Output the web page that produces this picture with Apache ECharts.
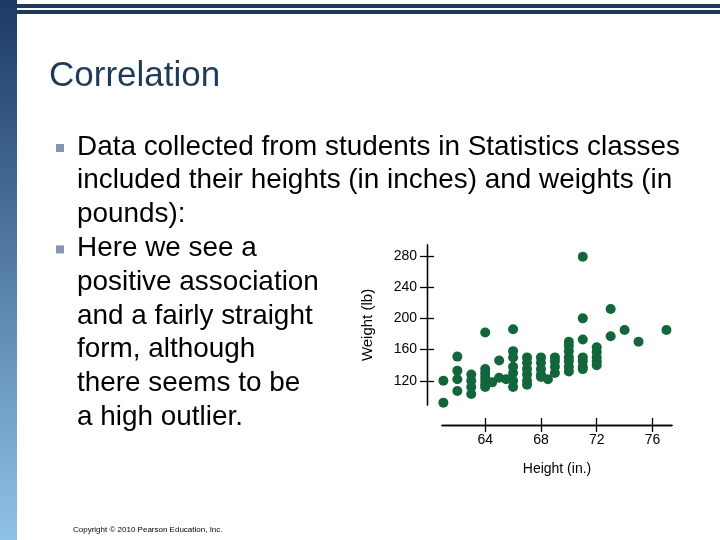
<!DOCTYPE html>
<html><head><meta charset="utf-8">
<script src="https://cdn.jsdelivr.net/npm/echarts@6/dist/echarts.min.js"></script>
<style>html,body{margin:0;padding:0;background:#fff}#chart{width:720px;height:540px}</style>
</head><body><div id="chart"></div>
<script>
(function () {
  // heights (in.) and weights (lb), one pair per student
  var heights = [61, 61, 61, 62, 62, 62, 62, 63, 63, 63, 63, 64, 64, 64, 64, 64, 64, 64, 64.5, 65, 65, 65.5,
    66, 66, 66, 66, 66, 66, 66, 67, 67, 67, 67, 67, 67, 68, 68, 68, 68, 68, 68.5, 69, 69, 69, 69,
    70, 70, 70, 70, 70, 70, 70, 71, 71, 71, 71, 71, 71, 71, 72, 72, 72, 72, 72, 73, 73, 74, 75, 77]
  var weights = [120, 92, 88, 151, 133, 122, 107, 128, 120, 112, 103, 182, 135, 130, 125, 120, 115, 112, 118, 146, 124, 122,
    186, 158, 150, 138, 130, 120, 112, 150, 143, 135, 128, 120, 115, 150, 143, 135, 128, 125, 122, 150, 145, 138, 130,
    170, 165, 158, 150, 145, 138, 132, 279, 200, 173, 150, 145, 138, 135, 163, 157, 150, 145, 140, 212, 177, 185, 170, 185]
  var xTicks = [64, 68, 72, 76]
  var yTicks = [120, 160, 200, 240, 280]
  var bullets = [
    ['Data collected from students in Statistics classes', 'included their heights (in inches) and weights (in', 'pounds):'],
    ['Here we see a', 'positive association', 'and a fairly straight', 'form, although', 'there seems to be', 'a high outlier.']
  ]

  var points = heights.map(function (h, i) { return [h, weights[i]] })
  var myChart = echarts.init(document.getElementById('chart'))

  var graphics = [
    { type: 'rect', shape: { x: 0, y: 0, width: 17, height: 540 },
      style: { fill: new echarts.graphic.LinearGradient(0, 0, 0, 1, [{ offset: 0, color: '#1b3a64' }, { offset: 1, color: '#8fc2e8' }]) } },
    { type: 'rect', shape: { x: 17, y: 4, width: 703, height: 4 }, style: { fill: '#1f3a5a' } },
    { type: 'rect', shape: { x: 17, y: 10, width: 703, height: 4 }, style: { fill: '#1f3a5a' } },
    { type: 'text', left: 49, top: 59, style: { text: 'Correlation', font: '35px "Liberation Sans", Arial', fill: '#1f3a5a' } },
    { type: 'text', left: 73, top: 526, style: { text: 'Copyright © 2010 Pearson Education, Inc.', font: '8px "Liberation Sans", Arial', fill: '#000' } }
  ]
  var lineY = 133
  bullets.forEach(function (b) {
    graphics.push({ type: 'rect', shape: { x: 56, y: lineY + 11, width: 8, height: 8 }, style: { fill: '#8496b0' } })
    b.forEach(function (t) {
      graphics.push({ type: 'text', left: 77, top: lineY, style: { text: t, font: '27.9px "Liberation Sans", Arial', fill: '#000' } })
      lineY += 33.8
    })
  })

  var axisText = { color: '#000', fontSize: 14, fontFamily: '"Liberation Sans Narrow", "Liberation Sans", Arial' }
  function xAxis(inside) {
    return {
      type: 'value', min: 60.9, max: 77.4, position: 'bottom', offset: 20,
      axisLine: { show: true, lineStyle: { color: '#000', width: 1.3 } },
      axisTick: { show: true, inside: inside, length: 7, customValues: xTicks, lineStyle: { color: '#000', width: 1.3 } },
      axisLabel: { show: !inside, customValues: xTicks, margin: 8, ...axisText },
      splitLine: { show: false },
      name: inside ? '' : 'Height (in.)', nameLocation: 'middle', nameGap: 37, nameTextStyle: axisText
    }
  }
  function yAxis(inside) {
    return {
      type: 'value', min: 89, max: 294, position: 'left', offset: 15,
      axisLine: { show: true, lineStyle: { color: '#000', width: 1.3 } },
      axisTick: { show: true, inside: inside, length: 7, customValues: yTicks, lineStyle: { color: '#000', width: 1.3 } },
      axisLabel: { show: !inside, customValues: yTicks, margin: 10, ...axisText },
      splitLine: { show: false },
      name: inside ? '' : 'Weight (lb)', nameLocation: 'middle', nameGap: 52, nameTextStyle: { ...axisText, fontSize: 15 }
    }
  }

  var option = {
    animation: false,
    graphic: graphics,
    grid: { left: 442, top: 245, width: 230, height: 160 },
    xAxis: [xAxis(false), xAxis(true)],
    yAxis: [yAxis(false), yAxis(true)],
    series: [{
      type: 'scatter', data: points, symbolSize: 10,
      itemStyle: { color: '#13663c', opacity: 1 }
    }]
  }
  myChart.setOption(option)
})()
</script></body></html>
